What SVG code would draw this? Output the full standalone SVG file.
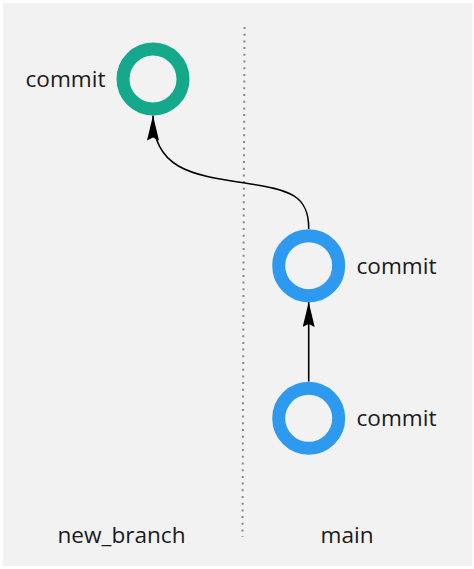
<svg xmlns="http://www.w3.org/2000/svg" width="474" height="569" viewBox="0 0 474 569">
  <defs>
    <marker id="arrow" viewBox="0 0 25 12" refX="25" refY="6" markerWidth="25" markerHeight="12" markerUnits="userSpaceOnUse" orient="auto">
      <path d="M0,0 L25,6 L0,12 L3,6 Z" fill="#000"/>
    </marker>
    <style>
      .lbl { font-family: "Open Sans", "Noto Sans", sans-serif; font-size: 22.6px; fill: #1a1a1a; }
      .ring { fill: none; stroke-width: 13; }
      .green { stroke: #14a98a; }
      .blue { stroke: #2d9af0; }
      .edge { fill: none; stroke: #000; stroke-width: 1.6; }
    </style>
  </defs>
  <rect x="0" y="0" width="474" height="569" fill="#ffffff"/>
  <rect x="3" y="3" width="469.5" height="563" fill="#f2f2f2"/>
  <path d="M244.5,27 L242.5,537" stroke="#888" stroke-width="2" stroke-dasharray="2 4.7" fill="none"/>

  <g id="connectors">
    <path class="edge" d="M308.7,381.5 L308.7,302" marker-end="url(#arrow)"/>
    <path class="edge" d="M308.7,229 C309,195 290,190 245,183 C190,175 153,168 153,115.5" marker-end="url(#arrow)"/>
  </g>

  <g id="commit-new-branch">
    <circle class="ring green" cx="153" cy="79" r="30"/>
    <text class="lbl" x="105.5" y="87" text-anchor="end">commit</text>
  </g>
  <g id="commit-main-2">
    <circle class="ring blue" cx="308.7" cy="265.7" r="30"/>
    <text class="lbl" x="356.5" y="274">commit</text>
  </g>
  <g id="commit-main-1">
    <circle class="ring blue" cx="308.7" cy="418.3" r="30"/>
    <text class="lbl" x="356.5" y="426">commit</text>
  </g>
  <g id="label-new-branch">
    <text class="lbl" x="121.5" y="543" text-anchor="middle">new_branch</text>
  </g>
  <g id="label-main">
    <text class="lbl" x="347" y="543" text-anchor="middle">main</text>
  </g>
</svg>
